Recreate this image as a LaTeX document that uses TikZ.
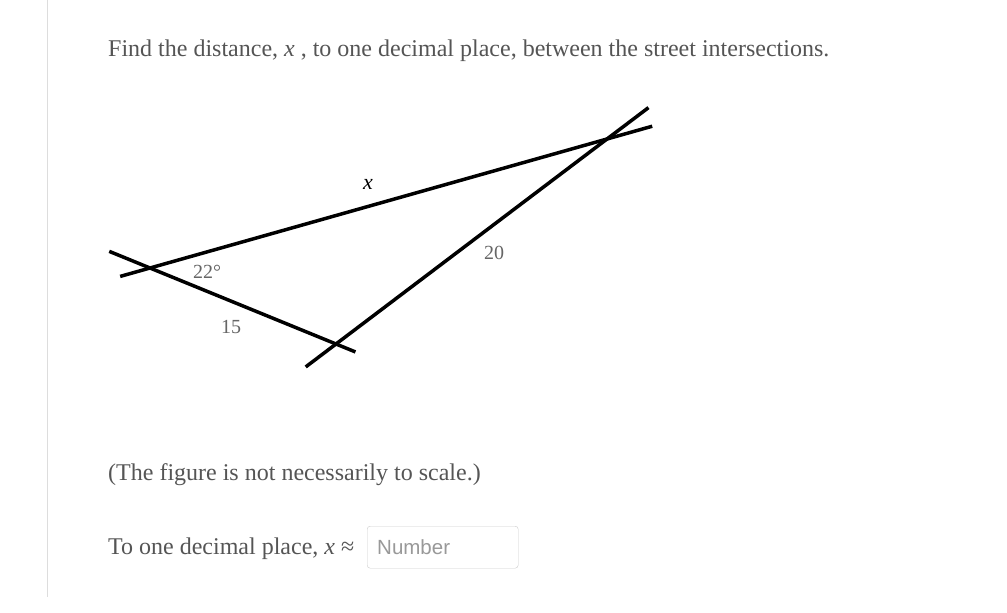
\documentclass[tikz,border=0pt]{standalone}
\usepackage{fontspec}
\setmainfont{Liberation Serif}
\newfontfamily\boxfont{Liberation Sans}
\usetikzlibrary{calc}
\definecolor{txtgray}{RGB}{85,85,85}
\definecolor{lblgray}{RGB}{102,102,102}
\definecolor{rulegray}{RGB}{221,221,221}
\definecolor{boxgray}{RGB}{204,204,204}
\begin{document}
\begin{tikzpicture}[x=1pt,y=-1pt]
        %% Page
        \useasboundingbox[fill=white] (0,0) rectangle (1007,613);
        \draw[rulegray,line width=1.2pt] (47.5,0) -- (47.5,597);
        %% Text
        \node[anchor=base west,inner sep=0pt,text=txtgray,font=\fontsize{24}{28}\selectfont] (question) at (108,56) {Find the distance, \textit{x} , to one decimal place, between the street intersections.};
        \node[anchor=base west,inner sep=0pt,text=txtgray,font=\fontsize{24}{28}\selectfont] (note) at (108,480) {(The figure is not necessarily to scale.)};
        \node[anchor=base west,inner sep=0pt,text=txtgray,font=\fontsize{24}{28}\selectfont] (answer) at (108,554) {To one decimal place, \textit{x} ≈};
        \node[draw=boxgray,rounded corners=3pt,minimum width=151pt,minimum height=42pt,anchor=north west] (field) at (367,526) {};
        \node[anchor=base west,inner sep=0pt,text=gray!80,font=\boxfont\fontsize{20.5}{24}\selectfont] (hint) at (377,554) {Number};
        %% Intersections
        \coordinate (A) at (150,268);
        \coordinate (B) at (336,344);
        \coordinate (C) at (607,139);
        %% Streets
        \draw[line width=3.5pt] ($(A)!-31pt!(C)$) -- ($(C)!-47pt!(A)$);
        \draw[line width=3.5pt] ($(A)!-44pt!(B)$) -- ($(B)!-21pt!(A)$);
        \draw[line width=3.5pt] ($(B)!-38pt!(C)$) -- ($(C)!-52pt!(B)$);
        %% Labels
        \node[font=\fontsize{22}{24}\selectfont\itshape] (lx) at (368,184) {x};
        \node[text=lblgray,font=\fontsize{20}{24}\selectfont] (l20) at (494,253) {20};
        \node[text=lblgray,font=\fontsize{20}{24}\selectfont] (l15) at (231,327) {15};
        \node[text=lblgray,font=\fontsize{20}{24}\selectfont] (l22) at (207,272) {22°};
\end{tikzpicture}
\end{document}
